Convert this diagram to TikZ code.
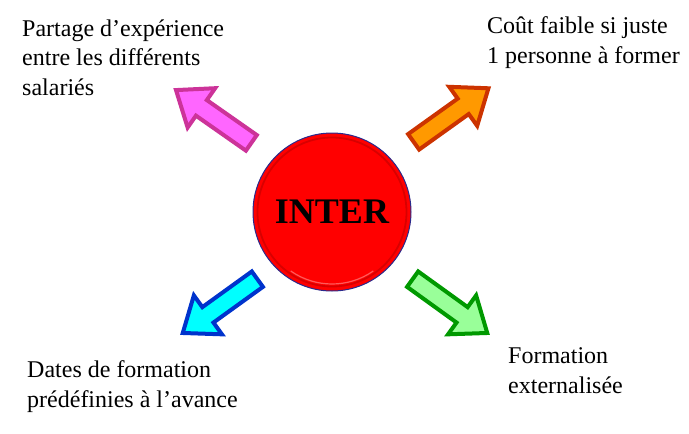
\documentclass[tikz,border=0pt]{standalone}
\usepackage{fontspec}
\setmainfont{Liberation Serif}
\definecolor{pinkfill}{HTML}{FF66FF}
\definecolor{pinkline}{HTML}{CC3399}
\definecolor{orangefill}{HTML}{FF9900}
\definecolor{orangeline}{HTML}{CC3300}
\definecolor{cyanfill}{HTML}{00FFFF}
\definecolor{cyanline}{HTML}{0033CC}
\definecolor{greenfill}{HTML}{99FF99}
\definecolor{greenline}{HTML}{009900}
\definecolor{rimblue}{HTML}{2A2A8C}
\definecolor{ballred}{HTML}{FF0000}
\begin{document}
\begin{tikzpicture}[x=1pt,y=-1pt,
  label/.style={anchor=base west,inner sep=0pt,align=left,font=\fontsize{24}{29.5}\selectfont},
  blockarrow/.style={line width=4pt,line join=miter,miter limit=10},
  ball/.style={circle,minimum size=158pt,inner sep=0pt,fill=ballred,draw=rimblue,line width=1pt,
    font=\fontsize{36}{40}\selectfont\bfseries}
]
\useasboundingbox (0,0) rectangle (689,434);
\newcommand{\arrowshape}{(2,-9.5) -- (63,-9.5) -- (63,-24) -- (94,0) -- (63,24) -- (63,9.5) -- (2,9.5) -- cycle}
% arrows
\begin{scope}[shift={(253,144)},rotate=145]
  \draw[blockarrow,fill=pinkfill,draw=pinkline] \arrowshape;
\end{scope}
\begin{scope}[shift={(412,143)},rotate=35.6]
  \draw[blockarrow,fill=orangefill,draw=orangeline] \arrowshape;
\end{scope}
\begin{scope}[shift={(259,278)},rotate=215.8]
  \draw[blockarrow,fill=cyanfill,draw=cyanline] \arrowshape;
\end{scope}
\begin{scope}[shift={(411,278)},rotate=-35.8]
  \draw[blockarrow,fill=greenfill,draw=greenline] \arrowshape;
\end{scope}
% central ball
\node[ball] (inter) at (332,212) {};
\draw[red!70!black,line width=1.8pt,opacity=0.5] (inter.center) circle (74.5);
\draw[white,line width=1.2pt,opacity=0.35] (inter.center) ++(125:72) arc[start angle=125,end angle=55,radius=72];
\node[inner sep=0pt,font=\fontsize{36}{40}\selectfont\bfseries] (intertext) at (inter.center) {INTER};
% labels (anchored at the baseline of the last line)
\node[label] (tl) at (22,95) {Partage d’expérience\\entre les différents\\salariés};
\node[label] (tr) at (487,63) {Coût faible si juste\\1 personne à former};
\node[label] (bl) at (27,407) {Dates de formation\\prédéfinies à l’avance};
\node[label] (br) at (508,393) {Formation\\externalisée};
\end{tikzpicture}
\end{document}
